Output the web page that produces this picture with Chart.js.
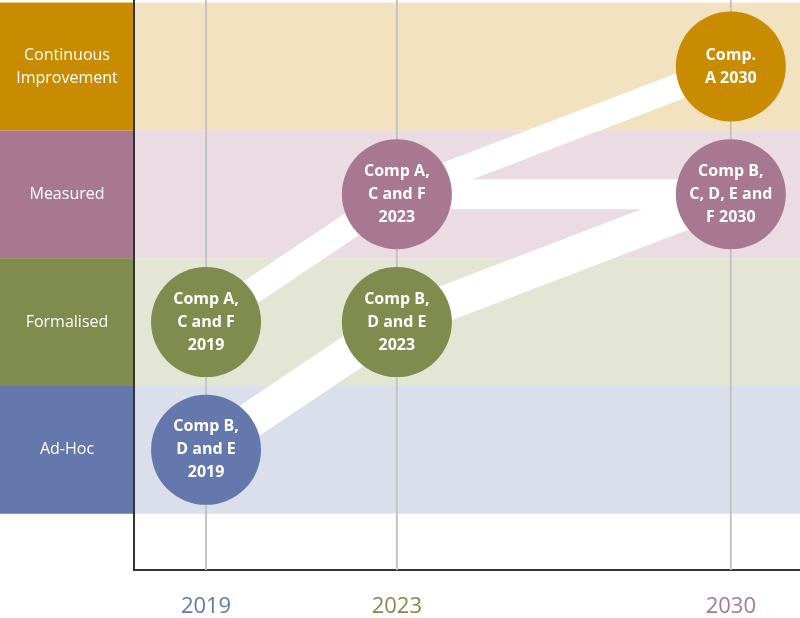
<!DOCTYPE html>
<html>
<head>
<meta charset="utf-8">
<script src="https://cdn.jsdelivr.net/npm/chart.js@4/dist/chart.umd.min.js"></script>
<style>
  html, body { margin: 0; padding: 0; background: #fff; overflow: hidden; }
  #wrap { position: relative; width: 800px; height: 618px; }
</style>
</head>
<body>
<div id="wrap"><canvas id="c"></canvas></div>
<script>
const years = [2019, 2023, 2030];
const yearColors = ['#6578ad', '#7f8c4d', '#a87790'];
const levels = ['Ad-Hoc', 'Formalised', 'Measured', 'Continuous\nImprovement'];
const levelDark = ['#6578ad', '#7f8c4d', '#a87790', '#c98b00'];
const levelLight = ['#dadfeb', '#e3e5d5', '#ebdbe2', '#f3e2c0'];

// bulles : année, niveau (0..3), texte
const bubbleYears = [2019, 2019, 2023, 2023, 2030, 2030];
const bubbleLevels = [1, 0, 2, 1, 3, 2];
const bubbleTexts = [
  'Comp A,\nC and F\n2019', 'Comp B,\nD and E\n2019',
  'Comp A,\nC and F\n2023', 'Comp B,\nD and E\n2023',
  'Comp.\nA 2030', 'Comp B,\nC, D, E and\nF 2030'
];
// chemins blancs entre les bulles
const pathA = [[2019, 1], [2023, 2], [2030, 3]];
const pathB = [[2019, 0], [2023, 1], [2030, 2]];
const pathC = [[2023, 2], [2030, 2]];

const bubbleColors = bubbleLevels.map(l => levelDark[l]);
const toPts = p => p.map(([x, y]) => ({ x, y }));

const bg = {
  id: 'bg',
  beforeDatasetsDraw(chart) {
    const { ctx, scales: { x, y }, chartArea: a } = chart;
    ctx.save();
    levels.forEach((name, i) => {
      const top = y.getPixelForValue(i + 0.5), bot = y.getPixelForValue(i - 0.5);
      ctx.fillStyle = levelLight[i];
      ctx.fillRect(a.left, top, a.right - a.left, bot - top);
      ctx.fillStyle = levelDark[i];
      ctx.fillRect(0, top, a.left, bot - top);
      ctx.fillStyle = '#fff';
      ctx.font = '16px "Open Sans"';
      ctx.textAlign = 'center';
      ctx.textBaseline = 'middle';
      const lines = name.split('\n');
      lines.forEach((t, k) => ctx.fillText(t, a.left / 2, (top + bot) / 2 + (k - (lines.length - 1) / 2) * 23));
    });
    ctx.strokeStyle = '#c4c4c4';
    ctx.lineWidth = 2;
    years.forEach(v => {
      const px = x.getPixelForValue(v);
      ctx.beginPath(); ctx.moveTo(px, a.top); ctx.lineTo(px, a.bottom); ctx.stroke();
    });
    ctx.strokeStyle = '#333';
    ctx.beginPath(); ctx.moveTo(a.left, a.top); ctx.lineTo(a.left, a.bottom + 1); ctx.stroke();
    ctx.restore();
  },
  afterDatasetsDraw(chart) {
    const { ctx } = chart;
    const meta = chart.getDatasetMeta(3);
    ctx.save();
    ctx.fillStyle = '#fff';
    ctx.font = 'bold 16px "Open Sans"';
    ctx.textAlign = 'center';
    ctx.textBaseline = 'middle';
    meta.data.forEach((pt, i) => {
      const lines = bubbleTexts[i].split('\n');
      lines.forEach((t, k) => ctx.fillText(t, pt.x, pt.y + (k - (lines.length - 1) / 2) * 23));
    });
    ctx.restore();
  }
};

const line = (pts, w) => ({
  type: 'line', data: toPts(pts), borderColor: '#fff', borderWidth: w,
  pointRadius: 0, tension: 0, order: 2, borderJoinStyle: 'round'
});

new Chart(document.getElementById('c'), {
  data: {
    datasets: [
      line(pathA, 26), line(pathB, 36), line(pathC, 30),
      {
        type: 'scatter',
        data: bubbleYears.map((x, i) => ({ x, y: bubbleLevels[i] })),
        backgroundColor: bubbleColors, borderWidth: 0,
        pointRadius: 55, pointHoverRadius: 55, order: 1
      }
    ]
  },
  options: {
    responsive: true, maintainAspectRatio: false, animation: false,
    layout: { autoPadding: false, padding: { left: 134, top: 0, right: 0, bottom: 0 } },
    plugins: { legend: { display: false }, tooltip: { enabled: false } },
    scales: {
      x: {
        type: 'linear', min: 2017.49, max: 2031.45,
        afterBuildTicks: s => { s.ticks = years.map(v => ({ value: v })); },
        afterFit: s => { s.height = 48; },
        grid: { display: false },
        border: { display: true, color: '#333', width: 2 },
        ticks: {
          callback: v => String(v),
          color: c => yearColors[years.indexOf(c.tick.value)] || '#333',
          font: { size: 22, family: 'Open Sans' }, padding: 16
        }
      },
      y: { display: false, min: -0.94, max: 3.52 }
    }
  },
  plugins: [bg]
});
</script>
</body>
</html>
